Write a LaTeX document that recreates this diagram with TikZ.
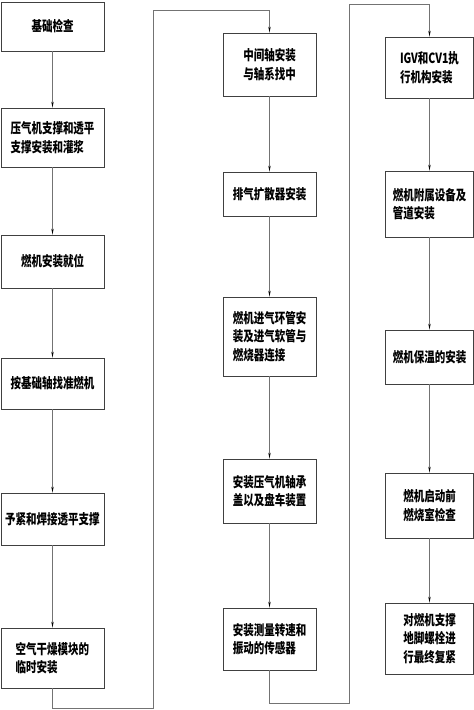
\documentclass[tikz,border=0pt]{standalone}
\usepackage{fontspec}
\usepackage{tikz}
\usetikzlibrary{arrows.meta}
\newfontfamily\cjk[FakeStretch=0.75]{Noto Sans CJK SC}
\colorlet{boxline}{black!75}
\colorlet{flowline}{black!55}

\begin{document}
\begin{tikzpicture}[x=1pt, y=-1pt, >=Stealth,
    box/.style={draw=boxline, line width=0.8pt, fill=white, inner sep=0pt,
      align=left, font=\cjk\bfseries\fontsize{14}{18.5}\selectfont},
    colA/.style={box, minimum width=103},
    colB/.style={box, minimum width=93},
    colC/.style={box, minimum width=88},
    flow/.style={draw=flowline, line width=0.7pt, -{Stealth[length=6pt, width=2.4pt, black]}}]
    \useasboundingbox (0,0) rectangle (474,710);

    % first column
    \node[colA, minimum height=49] (a1) at (52.5, 26.5) {基础检查};
    \node[colA, minimum height=59] (a2) at (52.5, 137.5) {压气机支撑和透平\\支撑安装和灌浆};
    \node[colA, minimum height=53] (a3) at (52.5, 261.5) {燃机安装就位};
    \node[colA, minimum height=51] (a4) at (52.5, 383.5) {按基础轴找准燃机};
    \node[colA, minimum height=52] (a5) at (52.5, 519) {予紧和焊接透平支撑};
    \node[colA, minimum height=60] (a6) at (52.5, 658) {空气干燥模块的\\临时安装};

    % second column
    \node[colB, minimum height=63] (b1) at (269.5, 64.5) {中间轴安装\\与轴系找中};
    \node[colB, minimum height=44] (b2) at (269.5, 194) {排气扩散器安装};
    \node[colB, minimum height=79] (b3) at (269.5, 336.5) {燃机进气环管安\\装及进气软管与\\燃烧器连接};
    \node[colB, minimum height=64] (b4) at (269.5, 491) {安装压气机轴承\\盖以及盘车装置};
    \node[colB, minimum height=62] (b5) at (269.5, 639) {安装测量转速和\\振动的传感器};

    % third column
    \node[colC, minimum height=61] (c1) at (429.5, 67.5) {IGV和CV1执\\行机构安装};
    \node[colC, minimum height=66] (c2) at (429.5, 204) {燃机附属设备及\\管道安装};
    \node[colC, minimum height=54] (c3) at (429.5, 357) {燃机保温的安装};
    \node[colC, minimum height=65] (c4) at (429.5, 505.5) {燃机启动前\\燃烧室检查};
    \node[colC, minimum height=71] (c5) at (429.5, 638.5) {对燃机支撑\\地脚螺栓进\\行最终复紧};

    % connectors
    \foreach \p/\q in {a1/a2, a2/a3, a3/a4, a4/a5, a5/a6,
                       b1/b2, b2/b3, b3/b4, b4/b5,
                       c1/c2, c2/c3, c3/c4, c4/c5}
      \draw[flow] (\p.south) -- (\q.north);

    \coordinate (lowA) at (153, 708);
    \coordinate (topA) at (153, 10);
    \coordinate (lowB) at (349, 703);
    \coordinate (topB) at (349, 4);
    \draw[flow] (a6.south) |- (lowA) -- (topA) -| (b1.north);
    \draw[flow] (b5.south) |- (lowB) -- (topB) -| (c1.north);
\end{tikzpicture}
\end{document}
